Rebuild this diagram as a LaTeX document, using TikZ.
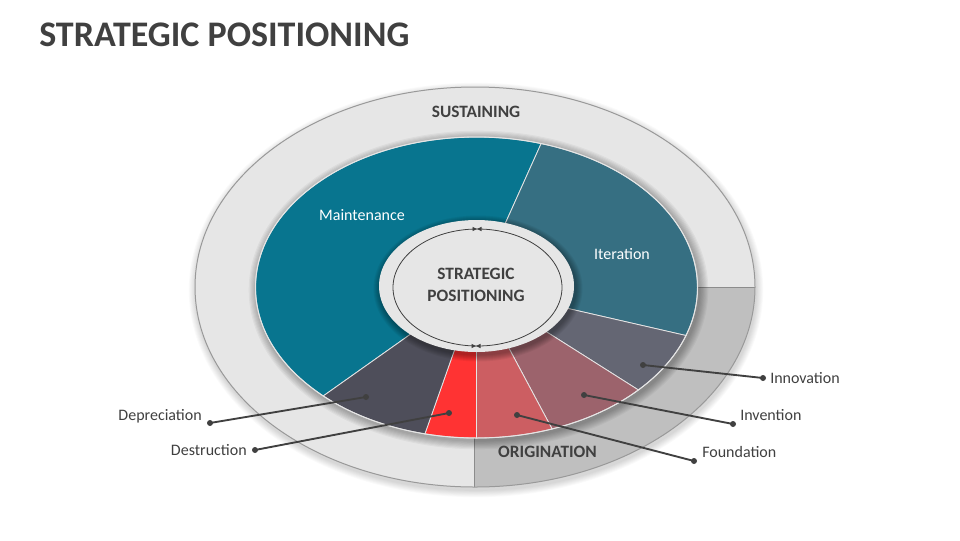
\documentclass[tikz,border=0pt]{standalone}
\usepackage{fontspec}
\setmainfont{Carlito}
\definecolor{tdark}{HTML}{404040}
\definecolor{ringlt}{HTML}{E6E6E6}
\definecolor{ringdk}{HTML}{BFBFBF}
\definecolor{cMaint}{HTML}{08758F}
\definecolor{cIter}{HTML}{366F82}
\definecolor{cInnov}{HTML}{646673}
\definecolor{cInvent}{HTML}{9C636C}
\definecolor{cFound}{HTML}{CC5E62}
\definecolor{cDestr}{HTML}{FF3333}
\definecolor{cDepr}{HTML}{4E4E5A}
\newcommand{\pwedge}[3]{\path[fill=#1,wedgeline] (C) -- ++(#2:221 and 150.5) arc[start angle=#2,end angle=#3,x radius=221,y radius=150.5] -- cycle;}
\begin{document}
\begin{tikzpicture}[x=0.75pt,y=-0.75pt,
  lbl/.style={text=tdark,font=\fontsize{12}{14}\selectfont,inner sep=0pt},
  hdr/.style={text=tdark,font=\bfseries\fontsize{13}{15}\selectfont,inner sep=0pt},
  wlbl/.style={text=white,font=\fontsize{12}{14}\selectfont,inner sep=0pt},
  dotnode/.style={circle,fill=tdark,inner sep=0pt,minimum size=4.5pt},
  cline/.style={draw=tdark,line width=1.4pt},
  wedgeline/.style={draw=white!80!gray,line width=0.6pt},
]
\useasboundingbox (0,0) rectangle (960,540);
\fill[white] (0,0) rectangle (960,540);

% outer ring shadow
\foreach \i in {1,...,8}{
  \pgfmathsetmacro\rx{280+\i*0.9}
  \pgfmathsetmacro\ry{200+\i*0.9}
  \fill[black,opacity=0.018] (476,290) ellipse [x radius=\rx, y radius=\ry];
}

% outer ring
\coordinate (O) at (475,287);
\fill[ringlt] (O) ellipse [x radius=280, y radius=200];
\begin{scope}
  \clip (O) ellipse [x radius=280, y radius=200];
  \fill[ringdk] (474,287) rectangle (760,490);
  \draw[black!45, line width=0.75pt] (474,287) -- (760,287);
  \draw[black!45, line width=0.75pt] (474,287) -- (474,490);
\end{scope}
\draw[black!40, line width=0.75pt] (O) ellipse [x radius=280, y radius=200];

% pie shadow
\coordinate (C) at (476.5,287.5);
\foreach \i in {1,...,8}{
  \pgfmathsetmacro\rx{221+\i*1.1}
  \pgfmathsetmacro\ry{150.5+\i*1.1}
  \fill[black,opacity=0.04] (478.5,290) ellipse [x radius=\rx, y radius=\ry];
}

% wedges
\pwedge{cMaint}{133.9}{287}
\pwedge{cIter}{-73}{18.6}
\pwedge{cInnov}{18.6}{42.9}
\pwedge{cInvent}{42.9}{70}
\pwedge{cFound}{70}{90}
\pwedge{cDestr}{90}{103.5}
\pwedge{cDepr}{103.5}{133.9}
\draw[white!80!gray, line width=0.75pt] (C) ellipse [x radius=221, y radius=150.5];

% centre ellipse
\foreach \i in {1,...,7}{
  \pgfmathsetmacro\rx{97.5+\i*1.0}
  \pgfmathsetmacro\ry{66+\i*1.0}
  \fill[black,opacity=0.05] (478,288.5) ellipse [x radius=\rx, y radius=\ry];
}
\fill[ringlt] (476.5,286) ellipse [x radius=97.5, y radius=66];
\draw[tdark, line width=0.6pt] (477.5,287.5) ellipse [x radius=84.5, y radius=58.5];
\fill[tdark] (472.5,226.8) -- (477,229) -- (472.5,231.2) -- cycle;
\fill[tdark] (481.5,226.8) -- (477,229) -- (481.5,231.2) -- cycle;
\fill[tdark] (471.5,343.8) -- (476,346) -- (471.5,348.2) -- cycle;
\fill[tdark] (480.5,343.8) -- (476,346) -- (480.5,348.2) -- cycle;

% texts
\node[anchor=base west,text=tdark,font=\bfseries\fontsize{27}{30}\selectfont,inner sep=0pt] (title) at (39,46) {STRATEGIC POSITIONING};
\node[hdr,anchor=base] (sust) at (476,117.5) {SUSTAINING};
\node[hdr,anchor=base] (orig) at (547.5,457.5) {ORIGINATION};
\node[hdr,anchor=base] (ctr1) at (476,279.5) {STRATEGIC};
\node[hdr,anchor=base] (ctr2) at (476,301.5) {POSITIONING};
\node[wlbl,anchor=base] (maint) at (362,220) {Maintenance};
\node[wlbl,anchor=base] (iter) at (622,259) {Iteration};

% callouts
\node[dotnode] (innovA) at (643,365) {};
\node[dotnode] (innovB) at (763,378) {};
\draw[cline] (innovA.center) -- (innovB.center);
\node[lbl,anchor=base west] (innovT) at (770,383.5) {Innovation};

\node[dotnode] (inventA) at (584,395) {};
\node[dotnode] (inventB) at (733,424) {};
\draw[cline] (inventA.center) -- (inventB.center);
\node[lbl,anchor=base west] (inventT) at (740,420.5) {Invention};

\node[dotnode] (foundA) at (517,415) {};
\node[dotnode] (foundB) at (694,461) {};
\draw[cline] (foundA.center) -- (foundB.center);
\node[lbl,anchor=base west] (foundT) at (702,457.5) {Foundation};

\node[dotnode] (deprA) at (366,397) {};
\node[dotnode] (deprB) at (210,423) {};
\draw[cline] (deprA.center) -- (deprB.center);
\node[lbl,anchor=base east] (deprT) at (202,420.5) {Depreciation};

\node[dotnode] (destrA) at (449,413) {};
\node[dotnode] (destrB) at (255,450) {};
\draw[cline] (destrA.center) -- (destrB.center);
\node[lbl,anchor=base east] (destrT) at (247,455.5) {Destruction};
\end{tikzpicture}
\end{document}
